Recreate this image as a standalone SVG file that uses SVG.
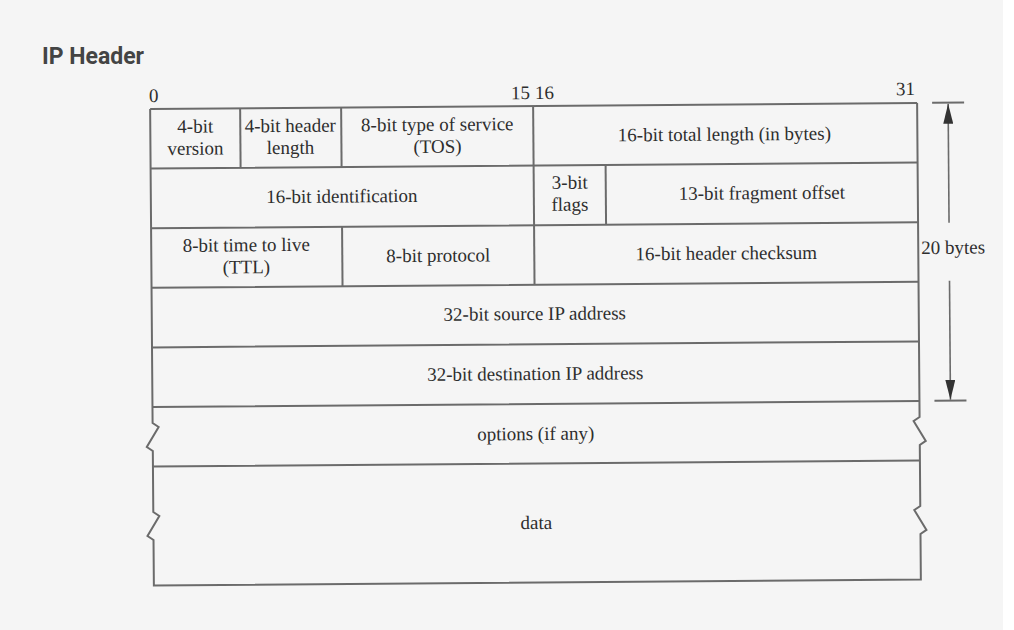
<svg xmlns="http://www.w3.org/2000/svg" width="1014" height="630" viewBox="0 0 1014 630">
<defs>
<style>
.ln{stroke:#6b6b6b;stroke-width:2;fill:none}
.t{font-family:"Liberation Serif","Times New Roman",serif;font-size:19px;fill:#2e2e2e;text-anchor:middle}
.ts{font-family:"Liberation Serif","Times New Roman",serif;font-size:19px;fill:#2e2e2e}
.title{font-family:Roboto,"Liberation Sans",sans-serif;font-weight:bold;font-size:23px;fill:#444}
</style>
<marker id="ah" markerWidth="20" markerHeight="10" refX="20" refY="5" orient="auto" markerUnits="userSpaceOnUse" viewBox="0 0 20 10">
<path d="M0,0 L20,5 L0,10 Z" fill="#333"/>
</marker>
</defs>
<rect x="0" y="0" width="1014" height="630" fill="#ffffff"/>
<rect x="0" y="0" width="1003" height="630" fill="#f5f5f5"/>
<text class="title" x="42" y="64">IP Header</text>
<g transform="rotate(-0.45 535 345)">
<g id="bit-labels">
<text class="ts" x="151" y="99">0</text>
<text class="ts" x="532" y="99" text-anchor="end">15</text>
<text class="ts" x="537" y="99">16</text>
<text class="ts" x="917" y="98" text-anchor="end">31</text>
</g>
<g id="frame">
<path class="ln" d="M152,106 H919"/>
<path class="ln" d="M152,106 V420 L158,424 L146,444 L152,448 V509 L158,513 L146,533 L152,537 V582.5 H919 V537 L925,533 L913,513 L919,509 V448 L925,444 L913,424 L919,420 V106"/>
<path class="ln" d="M152,165.6 H919 M152,225.2 H919 M152,284.8 H919 M152,344.4 H919 M152,404 H919 M152,463.6 H919"/>
</g>
<g id="version"><path class="ln" d="M242,106 V165.6"/><text class="t" x="197" y="130">4-bit</text><text class="t" x="197" y="152">version</text></g>
<g id="header-length"><path class="ln" d="M343,106 V165.6"/><text class="t" x="292" y="130">4-bit header</text><text class="t" x="292" y="152">length</text></g>
<g id="tos"><path class="ln" d="M535,106 V165.6"/><text class="t" x="439" y="130">8-bit type of service</text><text class="t" x="439" y="152">(TOS)</text></g>
<g id="total-length"><text class="t" x="726" y="142">16-bit total length (in bytes)</text></g>
<g id="identification"><path class="ln" d="M535,165.6 V225.2"/><text class="t" x="343" y="201">16-bit identification</text></g>
<g id="flags"><path class="ln" d="M607,165.6 V225.2"/><text class="t" x="571" y="189">3-bit</text><text class="t" x="571" y="211">flags</text></g>
<g id="fragment-offset"><text class="t" x="763" y="201">13-bit fragment offset</text></g>
<g id="ttl"><path class="ln" d="M343,225.2 V284.8"/><text class="t" x="247" y="249">8-bit time to live</text><text class="t" x="247" y="271">(TTL)</text></g>
<g id="protocol"><path class="ln" d="M535,225.2 V284.8"/><text class="t" x="439" y="261">8-bit protocol</text></g>
<g id="checksum"><text class="t" x="727" y="261">16-bit header checksum</text></g>
<g id="source"><text class="t" x="535" y="320">32-bit source IP address</text></g>
<g id="destination"><text class="t" x="535" y="380">32-bit destination IP address</text></g>
<g id="options"><text class="t" x="535" y="440">options (if any)</text></g>
<g id="data"><text class="t" x="535" y="529">data</text></g>
<g id="connectors">
<path class="ln" d="M934,106 H966 M934,404 H966"/>
<path class="ln" d="M950,226 V107" marker-end="url(#ah)" style="stroke-width:1.6"/>
<path class="ln" d="M950,284 V403" marker-end="url(#ah)" style="stroke-width:1.6"/>
<text class="ts" x="922" y="257">20 bytes</text>
</g>
</g>
</svg>
